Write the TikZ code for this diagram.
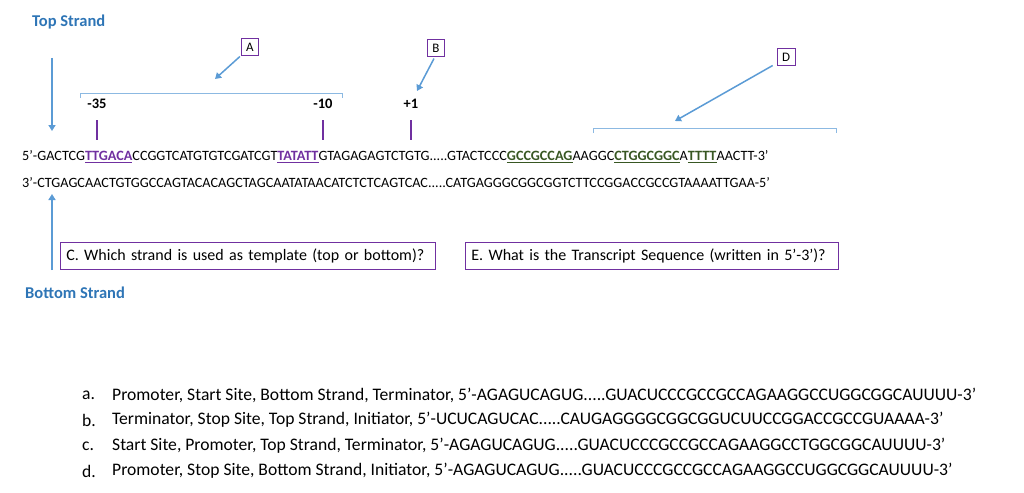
\documentclass[tikz,border=0pt]{standalone}
\usepackage{fontspec}
\setmainfont{Carlito}
\usetikzlibrary{arrows.meta}
\definecolor{ablue}{RGB}{91,155,213}
\definecolor{tblue}{RGB}{46,117,182}
\definecolor{pur}{RGB}{112,48,160}
\definecolor{grn}{RGB}{56,87,35}
\newcommand{\pu}[1]{\textcolor{pur}{\underline{\textbf{#1}}}}
\newcommand{\gu}[1]{\textcolor{grn}{\underline{\textbf{#1}}}}
\tikzset{
  arr/.style={ablue,line width=1.8pt,-{Triangle[length=6pt,width=7pt]}},
  brk/.style={ablue!70,line width=0.6pt},
  lbox/.style={draw=pur,line width=0.7pt,inner xsep=5pt,inner ysep=4pt,font=\fontsize{13}{15}\selectfont},
  qbox/.style={draw=pur,line width=0.7pt,minimum height=27pt,anchor=west,inner xsep=6pt,align=left,text width=#1,font=\fontsize{16}{18}\selectfont},
  seq/.style={anchor=west,inner sep=0pt,font=\fontsize{14.2}{16}\selectfont},
  poslbl/.style={font=\bfseries\fontsize{14.5}{16}\selectfont},
  tickln/.style={pur,line width=2.2pt},
  ans/.style={anchor=west,inner sep=0pt,font=\fontsize{17.6}{20}\selectfont}
}
\begin{document}
\begin{tikzpicture}[x=1pt,y=-1pt]
\useasboundingbox (0,0) rectangle (1024,492);
\node[anchor=west,tblue,inner sep=0pt,font=\bfseries\fontsize{16.5}{18}\selectfont] (top) at (32,22) {Top Strand};
\node[anchor=west,tblue,inner sep=0pt,font=\bfseries\fontsize{16.5}{18}\selectfont] (bot) at (25,293) {Bottom Strand};
\node[seq] (s1) at (22,157) {5’-GACTCG\pu{TTGACA}CCGGTCATGTGTCGATCGT\pu{TATATT}GTAGAGAGTCTGTG.....GTACTCCC\gu{GCCGCCAG}AAGGC\gu{CTGGCGGC}A\gu{TTTT}AACTT-3’};
\node[seq] (s2) at (22,183) {3’-CTGAGCAACTGTGGCCAGTACACAGCTAGCAATATAACATCTCTCAGTCAC.....CATGAGGGCGGCGGTCTTCCGGACCGCCGTAAAATTGAA-5’};
\coordinate (ta) at (52,58); \coordinate (tb) at (52,131);
\coordinate (ba) at (52,270); \coordinate (bb) at (52,194);
\draw[arr] (ta) -- (tb);
\draw[arr] (ba) -- (bb);
\node[poslbl] (p35) at (97,104) {-35};
\node[poslbl] (p10) at (323,104) {-10};
\node[poslbl] (p1) at (411,104) {+1};
\draw[tickln] (97,120) -- (97,140);
\draw[tickln] (323,120) -- (323,140);
\draw[tickln] (411,120) -- (411,140);
\draw[brk] (80,98) -- (80,93) -- (342,93) -- (342,98);
\draw[brk] (593,133) -- (593,128) -- (836,128) -- (836,133);
\node[lbox] (A) at (250,47) {A};
\node[lbox] (B) at (436,48) {B};
\node[lbox] (D) at (786,57) {D};
\coordinate (ae) at (215,79); \coordinate (be) at (417,91); \coordinate (de) at (675,121);
\draw[arr,line width=1.5pt] (A.south west) ++(-1,1) -- (ae);
\draw[arr,line width=1.5pt] (B.south) ++(-2,2) -- (be);
\draw[arr,line width=1.5pt] (D.south west) ++(-4,0) -- (de);
\node[qbox=363pt] (C) at (60,256) {C. Which strand is used as template (top or bottom)?};
\node[qbox=361pt] (E) at (465,256) {E. What is the Transcript Sequence (written in 5’-3’)?};
\foreach \l/\t/\y [count=\i] in {a./{Promoter, Start Site, Bottom Strand, Terminator, 5’-AGAGUCAGUG.....GUACUCCCGCCGCCAGAAGGCCUGGCGGCAUUUU-3’}/395,
 b./{Terminator, Stop Site, Top Strand, Initiator, 5’-UCUCAGUCAC.....CAUGAGGGGCGGCGGUCUUCCGGACCGCCGUAAAA-3’}/420,
 c./{Start Site, Promoter, Top Strand, Terminator, 5’-AGAGUCAGUG.....GUACUCCCGCCGCCAGAAGGCCTGGCGGCAUUUU-3’}/446,
 d./{Promoter, Stop Site, Bottom Strand, Initiator, 5’-AGAGUCAGUG.....GUACUCCCGCCGCCAGAAGGCCUGGCGGCAUUUU-3’}/471}{
  \node[ans] (l\i) at (82,\y) {\l};
  \node[ans] (t\i) at (112,\y) {\t};
}
\end{tikzpicture}
\end{document}
